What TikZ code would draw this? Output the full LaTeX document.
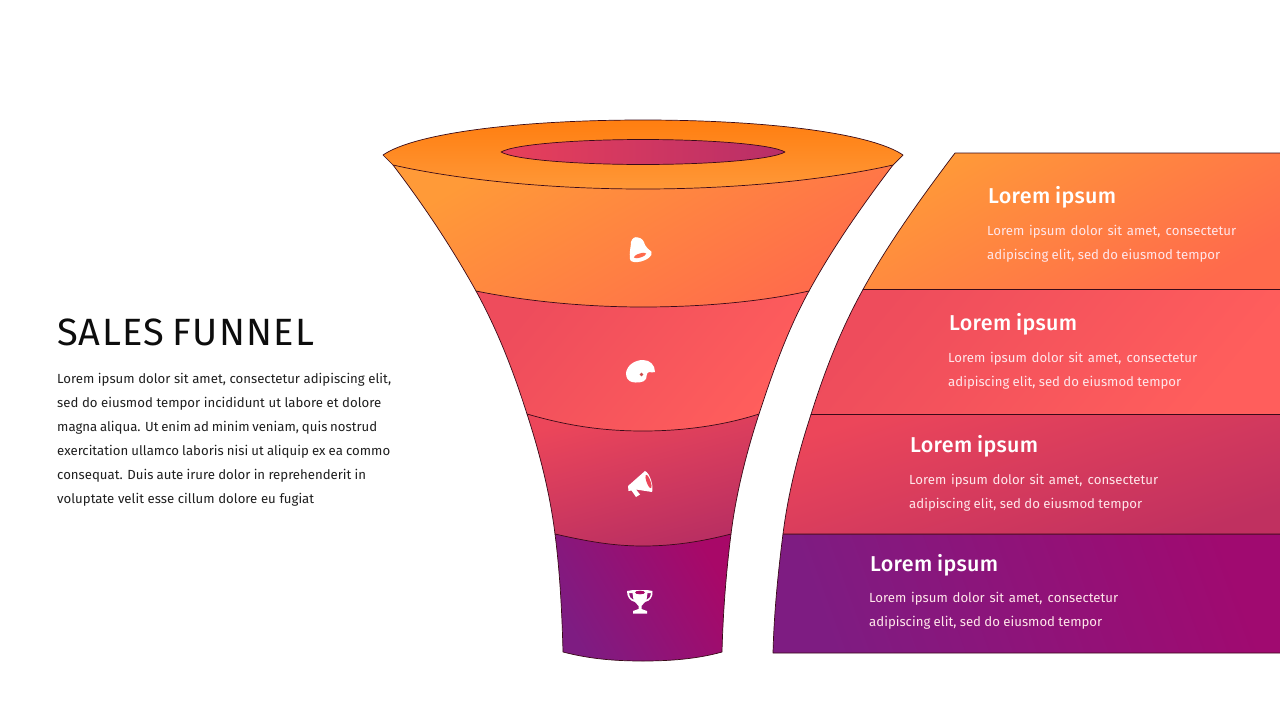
\documentclass[tikz,border=0pt]{standalone}
\usepackage{fontspec}
\setmainfont{Fira Sans}
\newfontfamily\headfont[LetterSpace=1.5]{Fira Sans Medium}
\newfontfamily\titlefont[LetterSpace=3.3]{Fira Sans}
\newcommand{\fitline}[2]{\makebox[#1pt][s]{#2}}
\tikzset{
  x=1pt,y=-1pt,
  edge/.style={draw=edgecol,line width=0.7pt,line join=round},
  bodytext/.style={anchor=base west,inner sep=0pt,font=\fontsize{13.2}{15}\selectfont,text=black!88},
  paneltext/.style={anchor=base west,inner sep=0pt,font=\fontsize{13.2}{15}\selectfont,text=panelwhite},
  panelhead/.style={anchor=base west,inner sep=0pt,font=\headfont\fontsize{21.5}{24}\selectfont,text=white},
  titletext/.style={anchor=base west,inner sep=0pt,font=\titlefont\fontsize{38}{42}\selectfont,text=black!95},
  icon/.style={fill=white,draw=none},
  bandA/.style={edge,top color=orangeA,bottom color=orangeB,shading angle=30},
  bandB/.style={edge,top color=redA,bottom color=redB,shading angle=50},
  bandC/.style={edge,top color=roseA,bottom color=roseB,shading angle=15},
  bandD/.style={edge,top color=purpA,bottom color=purpB,shading angle=120},
  panelC/.style={edge,top color=roseA,bottom color=roseC,shading angle=18},
  panelD/.style={edge,top color=purpA,bottom color=purpC,shading angle=110}
}
\definecolor{edgecol}{HTML}{3A0A18}
\definecolor{panelwhite}{HTML}{FFE6EA}
\definecolor{orangeA}{HTML}{FF9A38}
\definecolor{orangeB}{HTML}{FF6A4C}
\definecolor{redA}{HTML}{EE4C5C}
\definecolor{redB}{HTML}{FF5E5C}
\definecolor{roseA}{HTML}{EC465A}
\definecolor{roseB}{HTML}{B82E62}
\definecolor{roseC}{HTML}{C03060}
\definecolor{purpA}{HTML}{7E1C82}
\definecolor{purpB}{HTML}{A80868}
\definecolor{purpC}{HTML}{A00A70}
\definecolor{lidA}{HTML}{FF7E10}
\definecolor{lidB}{HTML}{FF9838}
\definecolor{holeA}{HTML}{E8405A}
\definecolor{holeB}{HTML}{B82E68}
\begin{document}
\begin{tikzpicture}
\useasboundingbox[fill=white] (0,0) rectangle (1280,720);
% funnel points
\coordinate (L0) at (393,165); \coordinate (L1) at (476,291); \coordinate (L2) at (527,414); \coordinate (L3) at (555,534); \coordinate (L4) at (563,652);
\coordinate (R0) at (893,165); \coordinate (R1) at (809,291); \coordinate (R2) at (759,414); \coordinate (R3) at (731,534); \coordinate (R4) at (722,652);
% band 4
\path[bandD] (L3) .. controls (560,573) and (562,613) .. (L4)
  .. controls (590,659) and (615,661) .. (643,661) .. controls (670,661) and (697,659) .. (R4)
  .. controls (723,613) and (726,573) .. (R3) -- cycle;
% band 3
\path[bandC] (L2) .. controls (540,454) and (550,494) .. (L3)
  .. controls (590,542) and (615,546) .. (643,546) .. controls (672,546) and (700,542) .. (R3)
  .. controls (736,494) and (746,454) .. (R2) -- cycle;
% band 2
\path[bandB] (L1) .. controls (498.5,332) and (514,373) .. (L2)
  .. controls (565,425) and (600,431) .. (643,431) .. controls (685,431) and (725,425) .. (R2)
  .. controls (772.5,373) and (786.5,332) .. (R1) -- cycle;
% band 1
\path[bandA] (L0) .. controls (425,207) and (452,248) .. (L1)
  .. controls (530,302) and (590,307) .. (643,307) .. controls (700,307) and (760,302) .. (R1)
  .. controls (832,249) and (861,207) .. (R0) -- cycle;
% lid
\path[edge,top color=lidA,bottom color=lidB] (383,155) .. controls (415,133) and (520,120) .. (643,120)
  .. controls (766,120) and (871,133) .. (903,155) -- (893,165)
  .. controls (836,178) and (746,189) .. (643,189)
  .. controls (540,189) and (450,178) .. (393,165) -- cycle;
\path[edge,left color=holeA,right color=holeB] (501,152) .. controls (515,144) and (580,139.5) .. (643,139.5)
  .. controls (706,139.5) and (771,144) .. (785,152)
  .. controls (771,160) and (706,164.5) .. (643,164.5)
  .. controls (580,164.5) and (515,160) .. cycle;
% right panels
\coordinate (P0) at (955,153); \coordinate (P1) at (863,289.5); \coordinate (P2) at (811,414.5); \coordinate (P3) at (783,534); \coordinate (P4) at (773,653);
\coordinate (E0) at (1281,153); \coordinate (E1) at (1281,289.5); \coordinate (E2) at (1281,414.5); \coordinate (E3) at (1281,534); \coordinate (E4) at (1281,653);
\path[panelD] (P3) .. controls (778,573) and (774,613) .. (P4) -- (E4) -- (E3) -- cycle;
\path[panelC] (P2) .. controls (798,454) and (788,494) .. (P3) -- (E3) -- (E2) -- cycle;
\path[bandB] (P1) .. controls (840,331) and (824,373) .. (P2) -- (E2) -- (E1) -- cycle;
\path[bandA] (P0) .. controls (921,198) and (888,244) .. (P1) -- (E1) -- (E0) -- cycle;
\draw[draw=edgecol,line width=1.2pt] (P2) -- (E2);
% bell
\path[icon] (630,259) .. controls (629,252) and (631,247) .. (631,242) .. controls (632,238) and (635,236.5) .. (638,237.5)
  .. controls (642,238) and (644,241) .. (645,245) .. controls (646,248) and (649,249) .. (651.5,252)
  .. controls (653,256) and (647,260) .. (641,261.5) .. controls (635,263) and (630,262) .. cycle;
\path[fill=orangeB,rotate around={18:(640,255.5)}] (640,255.5) ellipse [x radius=6.5pt,y radius=2pt];
% palette
\path[icon] (626,373) .. controls (627,365) and (635,360) .. (643,360) .. controls (650,360) and (655,365) .. (655,372)
  .. controls (653,374) and (651,371) .. (649,372) .. controls (646,373) and (647,377) .. (646,379)
  .. controls (644,383) and (636,383) .. (632,382) .. controls (628,381) and (626,378) .. cycle;
\path[fill=redB!80!black] (641.5,374.5) circle [radius=1.8pt];
% megaphone
\path[icon] (628,486) -- (645,471) .. controls (650,473) and (654,487) .. (652,492) -- (636,489.5) -- (640,494.5) -- (636,497) -- (631.5,490.5) -- (628.5,491) -- cycle;
\path[fill=roseA,rotate around={-70:(648.5,481.5)}] (648.5,481.5) ellipse [x radius=7pt,y radius=2pt];
% trophy
\path[icon,even odd rule] (633,590) -- (647,590) -- (652.5,591) .. controls (653,597) and (650,601) .. (645,602)
  .. controls (643.5,604) and (642,605) .. (641.5,606) -- (641.5,609) -- (647,611) -- (647,613.5) -- (633,613.5) -- (633,611) -- (638.5,609) -- (638.5,606)
  .. controls (638,605) and (636.5,604) .. (635,602) .. controls (630,601) and (627,597) .. (627,591) -- cycle
  (629,593) .. controls (629.5,597) and (631,599) .. (633.5,600) -- (632.5,593) -- cycle
  (651,593) .. controls (650.5,597) and (649,599) .. (646.5,600) -- (647.5,593) -- cycle;
\path[fill=purpB] (640,592.5) ellipse [x radius=5pt,y radius=1.8pt];
% left text
\node[titletext] (title) at (57,345) {\fitline{257}{SALES FUNNEL}};
\node[bodytext] (b1) at (57,383) {\fitline{334}{Lorem ipsum dolor sit amet, consectetur adipiscing elit,}};
\node[bodytext] (b2) at (57,407) {\fitline{324}{sed do eiusmod tempor incididunt ut labore et dolore}};
\node[bodytext] (b3) at (57,431) {\fitline{320}{magna aliqua. Ut enim ad minim veniam, quis nostrud}};
\node[bodytext] (b4) at (57,455) {\fitline{333}{exercitation ullamco laboris nisi ut aliquip ex ea commo}};
\node[bodytext] (b5) at (57,479) {\fitline{309}{consequat. Duis aute irure dolor in reprehenderit in}};
\node[bodytext] (b6) at (57,503) {\fitline{257}{voluptate velit esse cillum dolore eu fugiat}};
% panel text
\node[panelhead] (h1) at (988,203) {\fitline{128}{Lorem ipsum}};
\node[paneltext] (p1a) at (987,235) {\fitline{249}{Lorem ipsum dolor sit amet, consectetur}};
\node[paneltext] (p1b) at (987,259) {\fitline{233}{adipiscing elit, sed do eiusmod tempor}};
\node[panelhead] (h2) at (949,330) {\fitline{128}{Lorem ipsum}};
\node[paneltext] (p2a) at (948,362) {\fitline{249}{Lorem ipsum dolor sit amet, consectetur}};
\node[paneltext] (p2b) at (948,386) {\fitline{233}{adipiscing elit, sed do eiusmod tempor}};
\node[panelhead] (h3) at (910,452) {\fitline{128}{Lorem ipsum}};
\node[paneltext] (p3a) at (909,484) {\fitline{249}{Lorem ipsum dolor sit amet, consectetur}};
\node[paneltext] (p3b) at (909,508) {\fitline{233}{adipiscing elit, sed do eiusmod tempor}};
\node[panelhead] (h4) at (870,571) {\fitline{128}{Lorem ipsum}};
\node[paneltext] (p4a) at (869,602) {\fitline{249}{Lorem ipsum dolor sit amet, consectetur}};
\node[paneltext] (p4b) at (869,626) {\fitline{233}{adipiscing elit, sed do eiusmod tempor}};
\end{tikzpicture}
\end{document}
